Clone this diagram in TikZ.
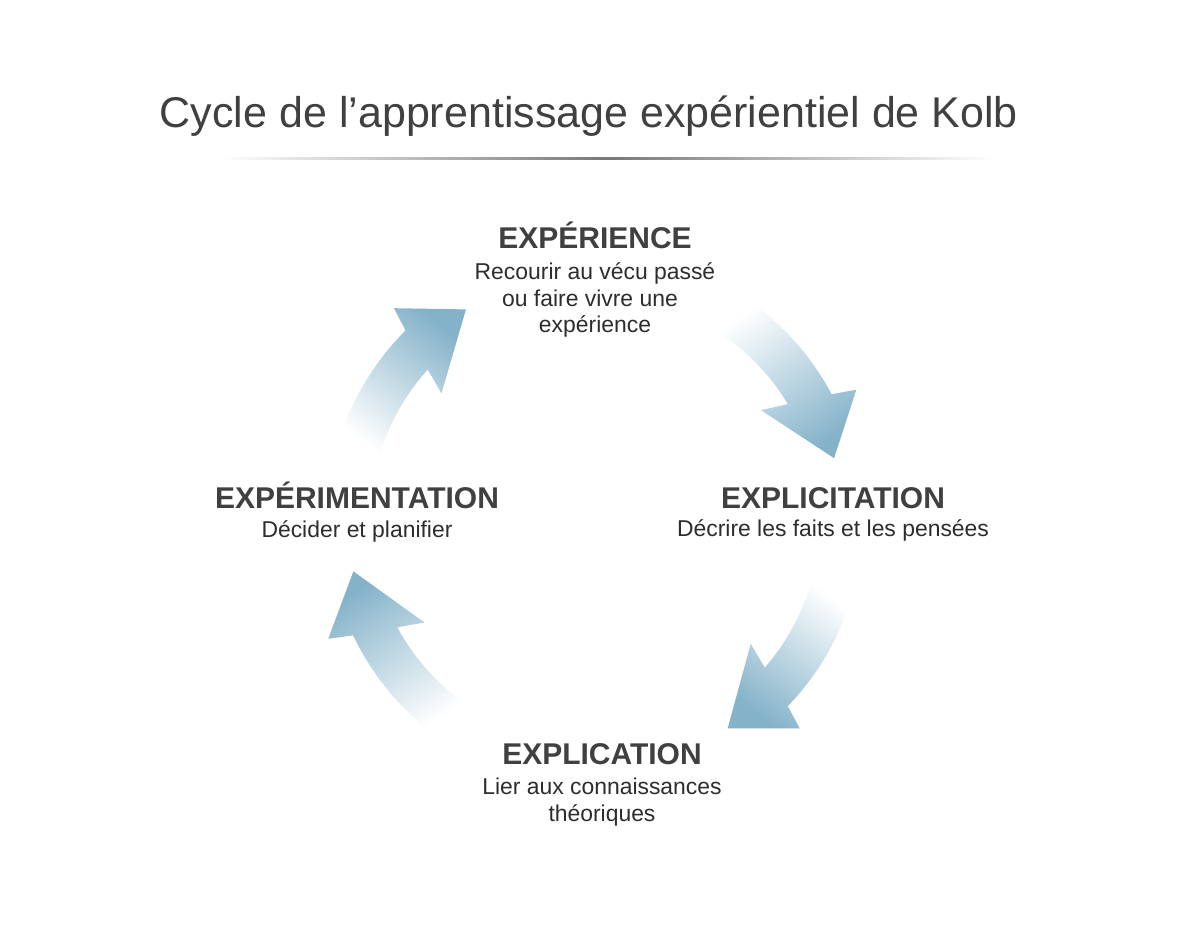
\documentclass[tikz,border=0pt]{standalone}
\usepackage{fontspec}
\setmainfont{Liberation Sans}
\definecolor{arrowblue}{RGB}{132,178,201}
\definecolor{titlegray}{RGB}{64,64,64}
\definecolor{headgray}{RGB}{64,64,64}
\definecolor{bodygray}{RGB}{45,45,45}
\definecolor{rulegray}{RGB}{120,120,120}
\newcommand\kolbArrow[1]{%
  \shade[top color=arrowblue, bottom color=white, shading angle={#1-201.25}]
    (#1:225) arc[start angle=#1, end angle={#1-26}, radius=225]
    -- ({#1-23.5}:199) -- ({#1-42.5}:247) -- ({#1-30.5}:292) -- ({#1-29}:268)
    arc[start angle={#1-29}, end angle=#1, radius=268] -- cycle;}
\begin{document}
\begin{tikzpicture}[x=1pt,y=1pt,
  titletext/.style={font=\fontsize{43}{48}\selectfont, text=titlegray, inner sep=0pt, anchor=base},
  headtext/.style={font=\fontsize{30}{34}\selectfont\bfseries, text=headgray, inner sep=0pt, anchor=base},
  bodytext/.style={font=\fontsize{22.9}{26}\selectfont, text=bodygray, inner sep=0pt, anchor=base}]
\useasboundingbox[fill=white] (-595,-407) rectangle (605,520);
% title
\node[titletext] (title) at (-6,392) {Cycle de l’apprentissage expérientiel de Kolb};
\coordinate (ruleL) at (-375,361);
\coordinate (ruleR) at (400,361);
\shade[left color=white, right color=white, middle color=rulegray] ([yshift=-1]ruleL) rectangle ([yshift=1]ruleR);
% arrows
\kolbArrow{57}
\kolbArrow{-15}
\kolbArrow{234.5}
\kolbArrow{164}
% labels
\node[headtext] (exp) at (0,271) {EXPÉRIENCE};
\node[bodytext] (exp1) at (0,240) {Recourir au vécu passé};
\node[bodytext] (exp2) at (-5,213) {ou faire vivre une};
\node[bodytext] (exp3) at (0,187) {expérience};
\node[headtext] (xpt) at (238,12) {EXPLICITATION};
\node[bodytext] (xpt1) at (238,-16) {Décrire les faits et les pensées};
\node[headtext] (xpl) at (7,-244) {EXPLICATION};
\node[bodytext] (xpl1) at (7,-274) {Lier aux connaissances};
\node[bodytext] (xpl2) at (7,-301) {théoriques};
\node[headtext] (xpm) at (-238,12) {EXPÉRIMENTATION};
\node[bodytext] (xpm1) at (-238,-17) {Décider et planifier};
\end{tikzpicture}
\end{document}
